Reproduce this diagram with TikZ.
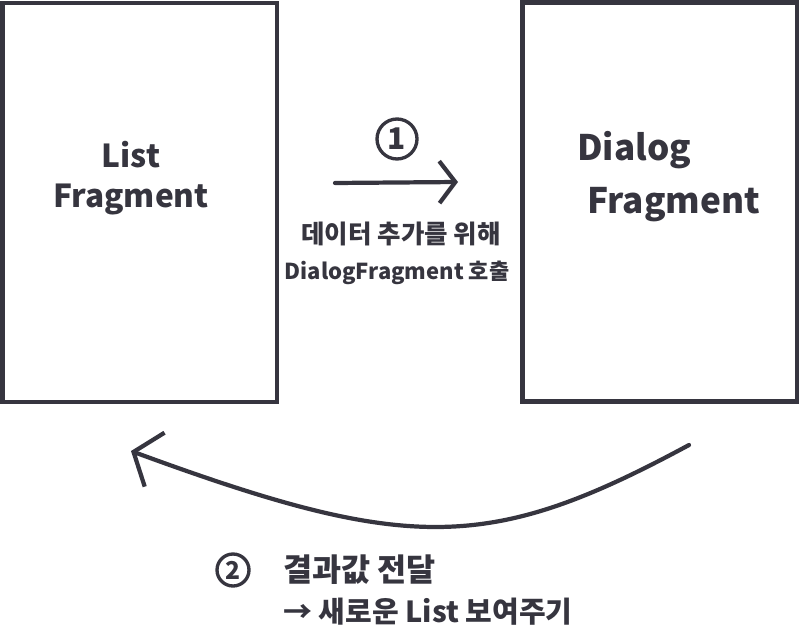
\documentclass[tikz,border=0pt]{standalone}
\usepackage{fontspec}
\setmainfont{Noto Sans CJK KR}
\usetikzlibrary{arrows.meta}
\definecolor{ink}{HTML}{36353F}

\begin{document}
\begin{tikzpicture}[x=0.02cm,y=-0.02cm,
  box/.style={draw=ink,line width=2.5pt,minimum width=5.49cm,minimum height=7.98cm,inner sep=0pt},
  num/.style={draw=ink,circle,line width=1.9pt,inner sep=0pt,text=ink},
  lbl/.style={text=ink,font=\fontsize{19}{23}\selectfont\bfseries,inner sep=0pt},
  note/.style={text=ink,font=\fontsize{14.5}{18}\selectfont\bfseries,inner sep=0pt},
  arr/.style={draw=ink,line width=2.4pt,line cap=round}]
\useasboundingbox (0,0) rectangle (800,638);

\node[box] (list) at (139.75,202.25) {};
\node[box] (dialog) at (659.75,202) {};

\node[lbl,align=center,font=\fontsize{18}{23}\selectfont\bfseries] (listlbl) at (131,178) {List\\Fragment};
\node[lbl,anchor=west,font=\fontsize{20}{23}\selectfont\bfseries] (dlglbl) at (577,150) {Dialog};
\node[lbl,anchor=west,font=\fontsize{20}{23}\selectfont\bfseries] (fraglbl) at (587,205) {Fragment};

\node[num,minimum size=0.8cm,font=\fontsize{17}{17}\selectfont\bfseries] (one) at (397,139) {1};
\coordinate (a1s) at (335,183);
\coordinate (a1e) at (458,182);
\draw[arr,-{Straight Barb[length=0.32cm,width=0.84cm]}] (a1s) -- (a1e);
\node[note] (call1) at (401,234) {데이터 추가를 위해};
\node[note,font=\fontsize{12.5}{16}\selectfont\bfseries] (call2) at (397,273) {DialogFragment 호출};

\coordinate (a2s) at (689,445);
\coordinate (a2e) at (131,451);
\draw[arr,-{Straight Barb[length=0.45cm,width=1.15cm]}] (a2s) .. controls (489,553) and (409,553) .. (a2e);

\node[num,minimum size=0.64cm,font=\fontsize{14}{14}\selectfont\bfseries] (two) at (233,570) {2};
\node[note,font=\fontsize{18}{20}\selectfont\bfseries,anchor=west] (ret1) at (283,570) {결과값 전달};
\node[note,font=\fontsize{16.5}{20}\selectfont\bfseries,anchor=west] (ret2) at (283,612) {→ 새로운 List 보여주기};
\end{tikzpicture}
\end{document}
